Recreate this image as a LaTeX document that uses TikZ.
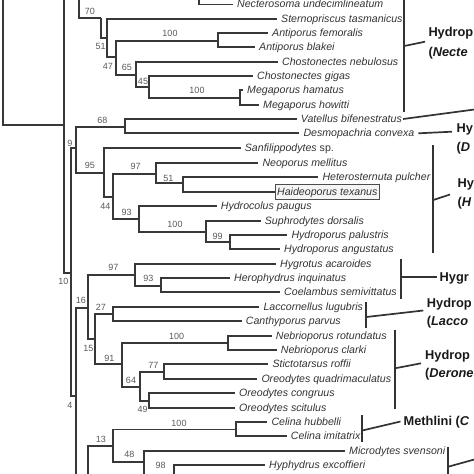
\documentclass[tikz,border=0pt]{standalone}
\usepackage{fontspec}
\setmainfont{Liberation Sans}
\begin{document}
\begin{tikzpicture}[x=1pt,y=-1pt,
  br/.style={draw=black!78,line width=1.7pt},
  brk/.style={draw=black!80,line width=1.7pt},
  leaf/.style={anchor=west,inner xsep=4pt,inner ysep=0pt,text=black!80,
    font=\fontsize{10.6}{12}\selectfont\itshape,text height=1.5ex,text depth=.25ex},
  hbox/.style={anchor=west,inner xsep=2.3pt,inner ysep=0pt,minimum height=15pt,
    draw=black!70,fill=black!4,line width=0.8pt,text=black!80,
    font=\fontsize{10.6}{12}\selectfont\itshape,text height=1.5ex,text depth=.25ex},
  supval/.style={inner sep=0pt,text=black!65,font=\fontsize{9}{10}\selectfont},
  clade/.style={anchor=west,inner sep=0pt,text=black!90,
    font=\fontsize{12.8}{15}\selectfont\bfseries,text height=9.2pt,text depth=0pt}]
\useasboundingbox (0,0) rectangle (474,474);
\clip (0,0) rectangle (474,474);
% ---------------- leaves
\node[leaf] (l1) at (233,4.5) {Necterosoma undecimlineatum};
\node[leaf] (l2) at (277,18.7) {Sternopriscus tasmanicus};
\node[leaf] (l3) at (268,33.3) {Antiporus femoralis};
\node[leaf] (l4) at (255,46.7) {Antiporus blakei};
\node[leaf] (l5) at (278,61.7) {Chostonectes nebulosus};
\node[leaf] (l6) at (253,76) {Chostonectes gigas};
\node[leaf] (l7) at (243,90) {Megaporus hamatus};
\node[leaf] (l8) at (259,105) {Megaporus howitti};
\node[leaf] (l9) at (296.7,119) {Vatellus bifenestratus};
\node[leaf] (l10) at (299.3,133.3) {Desmopachria convexa};
\node[leaf] (l11) at (240.7,147.7) {Sanfilippodytes \textup{sp.}};
\node[leaf] (l12) at (258.3,163.3) {Neoporus mellitus};
\node[leaf] (l13) at (318.3,176.7) {Heterosternuta pulcher};
\node[hbox] (l14) at (274.5,191.7) {Haideoporus texanus};
\node[leaf] (l15) at (216.7,205.7) {Hydrocolus paugus};
\node[leaf] (l16) at (260.7,220.7) {Suphrodytes dorsalis};
\node[leaf] (l17) at (287.3,235) {Hydroporus palustris};
\node[leaf] (l18) at (280,249) {Hydroporus angustatus};
\node[leaf] (l19) at (276,264) {Hygrotus acaroides};
\node[leaf] (l20) at (230,277.7) {Herophydrus inquinatus};
\node[leaf] (l21) at (280,292.3) {Coelambus semivittatus};
\node[leaf] (l22) at (259.3,306.7) {Laccornellus lugubris};
\node[leaf] (l23) at (241.7,321) {Canthyporus parvus};
\node[leaf] (l24) at (271.7,335.7) {Nebrioporus rotundatus};
\node[leaf] (l25) at (276.7,350) {Nebrioporus clarki};
\node[leaf] (l26) at (268.3,364.3) {Stictotarsus roffii};
\node[leaf] (l27) at (257.3,379) {Oreodytes quadrimaculatus};
\node[leaf] (l28) at (235,392.7) {Oreodytes congruus};
\node[leaf] (l29) at (235,407.7) {Oreodytes scitulus};
\node[leaf] (l30) at (267.3,421.7) {Celina hubbelli};
\node[leaf] (l31) at (286.7,436) {Celina imitatrix};
\node[leaf] (l32) at (345,450.7) {Microdytes svensoni};
\node[leaf] (l33) at (265,465) {Hyphydrus excoffieri};
% ---------------- internal nodes
\coordinate (nNe) at (199,-12);
\coordinate (n79) at (79,-12);
\coordinate (n70) at (100.7,18.3);
\coordinate (n51a) at (107,38.3);
\coordinate (n47) at (116,56.7);
\coordinate (nAnt) at (218,40.7);
\coordinate (n65) at (136,75);
\coordinate (n45) at (149,87.3);
\coordinate (nMeg) at (240,98.3);
\coordinate (nR) at (3.3,-12);
\coordinate (nA) at (64.3,125);
\coordinate (nAt) at (64.3,-12);
\coordinate (nB) at (71,273.3);
\coordinate (n9) at (76,148.3);
\coordinate (n68) at (125,127.3);
\coordinate (n95) at (104.3,172.7);
\coordinate (n44) at (113.3,197.3);
\coordinate (n97a) at (155.7,174);
\coordinate (n51b) at (182.7,183.3);
\coordinate (n93a) at (139.3,219.3);
\coordinate (n100b) at (206,231.7);
\coordinate (n99) at (230,241.7);
\coordinate (n4) at (76,395.7);
\coordinate (n4b) at (76,490);
\coordinate (n16) at (88.3,307.7);
\coordinate (n97b) at (135,275);
\coordinate (n93b) at (160.7,285.7);
\coordinate (n15) at (95,339.3);
\coordinate (n27) at (113.3,314.3);
\coordinate (n91) at (122.3,364.3);
\coordinate (n100c) at (227.7,343.3);
\coordinate (n64) at (140,386.7);
\coordinate (n77) at (164,371.7);
\coordinate (n49) at (149.3,400.7);
\coordinate (nL) at (88.3,490);
\coordinate (n13) at (112.7,445.7);
\coordinate (nCel) at (236,429.5);
\coordinate (n48) at (144,462.3);
\coordinate (n98) at (174,474.6);
\coordinate (n98b) at (174,490);
% ---------------- branches
\draw[br] (nNe) |- (l1.west);
\draw[br] (n79) |- (n70);
\draw[br] (n70) |- (n51a);
\draw[br] (n51a) |- (l2.west);
\draw[br] (n51a) |- (n47);
\draw[br] (n47) |- (nAnt);
\draw[br] (n47) |- (n65);
\draw[br] (nAnt) |- (l3.west);
\draw[br] (nAnt) |- (l4.west);
\draw[br] (n65) |- (l5.west);
\draw[br] (n65) |- (n45);
\draw[br] (n45) |- (l6.west);
\draw[br] (n45) |- (nMeg);
\draw[br] (nMeg) |- (l7.west);
\draw[br] (nMeg) |- (l8.west);
\draw[br] (nR) |- (nA);
\draw[br] (nA) -- (nAt);
\draw[br] (nA) |- (nB);
\draw[br] (nB) |- (n9);
\draw[br] (nB) |- (n4);
\draw[br] (n9) |- (n68);
\draw[br] (n9) |- (n95);
\draw[br] (n68) |- (l9.west);
\draw[br] (n68) |- (l10.west);
\draw[br] (n95) |- (l11.west);
\draw[br] (n95) |- (n44);
\draw[br] (n44) |- (n97a);
\draw[br] (n44) |- (n93a);
\draw[br] (n97a) |- (l12.west);
\draw[br] (n97a) |- (n51b);
\draw[br] (n51b) |- (l13.west);
\draw[br] (n51b) |- (l14.west);
\draw[br] (n93a) |- (l15.west);
\draw[br] (n93a) |- (n100b);
\draw[br] (n100b) |- (l16.west);
\draw[br] (n100b) |- (n99);
\draw[br] (n99) |- (l17.west);
\draw[br] (n99) |- (l18.west);
\draw[br] (n4) |- (n16);
\draw[br] (n4) -- (n4b);
\draw[br] (n16) |- (n97b);
\draw[br] (n16) |- (n15);
\draw[br] (n97b) |- (l19.west);
\draw[br] (n97b) |- (n93b);
\draw[br] (n93b) |- (l20.west);
\draw[br] (n93b) |- (l21.west);
\draw[br] (n15) |- (n27);
\draw[br] (n15) |- (n91);
\draw[br] (n27) |- (l22.west);
\draw[br] (n27) |- (l23.west);
\draw[br] (n91) |- (n100c);
\draw[br] (n91) |- (n64);
\draw[br] (n100c) |- (l24.west);
\draw[br] (n100c) |- (l25.west);
\draw[br] (n64) |- (n77);
\draw[br] (n64) |- (n49);
\draw[br] (n77) |- (l26.west);
\draw[br] (n77) |- (l27.west);
\draw[br] (n49) |- (l28.west);
\draw[br] (n49) |- (l29.west);
\draw[br] (nL) |- (n13);
\draw[br] (n13) |- (nCel);
\draw[br] (n13) |- (n48);
\draw[br] (nCel) |- (l30.west);
\draw[br] (nCel) |- (l31.west);
\draw[br] (n48) |- (l32.west);
\draw[br] (n48) |- (n98);
\draw[br] (n98) |- (l33.west);
\draw[br] (n98) -- (n98b);
% ---------------- support values
\node[supval] (s1) at (90,11) {70};
\node[supval] (s2) at (100.7,46.7) {51};
\node[supval] (s3) at (108,66.7) {47};
\node[supval] (s4) at (127,67.7) {65};
\node[supval] (s5) at (143,81) {45};
\node[supval] (s6) at (170,33.3) {100};
\node[supval] (s7) at (197,90.7) {100};
\node[supval] (s8) at (102.3,120) {68};
\node[supval] (s9) at (70,143.3) {9};
\node[supval] (s10) at (90,165) {95};
\node[supval] (s11) at (135.7,166.7) {97};
\node[supval] (s12) at (168.3,178.3) {51};
\node[supval] (s13) at (105.3,206) {44};
\node[supval] (s14) at (126.7,212.3) {93};
\node[supval] (s15) at (175,224.3) {100};
\node[supval] (s16) at (217.7,236) {99};
\node[supval] (s17) at (63.3,281.7) {10};
\node[supval] (s18) at (113.3,267.3) {97};
\node[supval] (s19) at (148.3,278.3) {93};
\node[supval] (s20) at (81,300.7) {16};
\node[supval] (s21) at (101,307.3) {27};
\node[supval] (s22) at (88.3,348.3) {15};
\node[supval] (s23) at (176.7,336.7) {100};
\node[supval] (s24) at (109.3,358.3) {91};
\node[supval] (s25) at (153.3,365) {77};
\node[supval] (s26) at (131,380) {64};
\node[supval] (s27) at (142.7,409.3) {49};
\node[supval] (s28) at (70,405) {4};
\node[supval] (s29) at (179,423.3) {100};
\node[supval] (s30) at (101,439) {13};
\node[supval] (s31) at (129.3,454) {48};
\node[supval] (s32) at (160.7,465) {98};
% ---------------- clade brackets and labels
\coordinate (bNt) at (404.3,-2); \coordinate (bNb) at (404.3,111.7);
\coordinate (bNm) at (404.3,46); \coordinate (bNe) at (425,41.7);
\draw[brk] (bNt) -- (bNb); \draw[brk] (bNm) -- (bNe);
\node[clade] (cN1) at (428.3,32.3) {Hydrop};
\node[clade] (cN2) at (428.3,52) {(\textit{Necte}};
\coordinate (vEnd) at (476,109.3);
\draw[brk] ([xshift=-3pt]l9.east) -- (vEnd);
\coordinate (dEnd) at (452,131.7);
\draw[brk] (l10.east) -- (dEnd);
\node[clade] (cD1) at (456.5,128) {Hy};
\node[clade] (cD2) at (456.5,146.5) {(\textit{D}};
\coordinate (bHt) at (433.3,145); \coordinate (bHb) at (433.3,252.7);
\coordinate (bHm) at (433.3,200); \coordinate (bHe) at (450,194.5);
\draw[brk] (bHt) -- (bHb); \draw[brk] (bHm) -- (bHe);
\node[clade] (cH1) at (457.5,182.5) {Hy};
\node[clade] (cH2) at (457.5,201.7) {(\textit{H}};
\coordinate (bGt) at (400.7,259.3); \coordinate (bGb) at (400.7,299.3);
\coordinate (bGm) at (400.7,277); \coordinate (bGe) at (436.5,277);
\draw[brk] (bGt) -- (bGb); \draw[brk] (bGm) -- (bGe);
\node[clade] (cG1) at (439.5,276.5) {Hygr};
\coordinate (bLt) at (366.3,301.7); \coordinate (bLb) at (366.3,328.3);
\coordinate (bLm) at (366.3,317); \coordinate (bLe) at (423.3,310.5);
\draw[brk] (bLt) -- (bLb); \draw[brk] (bLm) -- (bLe);
\node[clade] (cL1) at (426.7,302.7) {Hydrop};
\node[clade] (cL2) at (426.7,321.3) {(\textit{Lacco}};
\coordinate (bDt) at (395,330); \coordinate (bDb) at (395,409);
\coordinate (bDm) at (395,368.3); \coordinate (bDe) at (421,363.3);
\draw[brk] (bDt) -- (bDb); \draw[brk] (bDm) -- (bDe);
\node[clade] (cE1) at (425,355) {Hydrop};
\node[clade] (cE2) at (425,373.3) {(\textit{Derone}};
\coordinate (bMt) at (362.3,415); \coordinate (bMb) at (362.3,442.3);
\coordinate (bMm) at (362.3,430.5); \coordinate (bMe) at (400.5,421.5);
\draw[brk] (bMt) -- (bMb); \draw[brk] (bMm) -- (bMe);
\node[clade] (cM1) at (403.5,421) {Methlini (\textit{C}};
\coordinate (bBt) at (448.3,447); \coordinate (bBb) at (448.3,490);
\coordinate (bBm) at (448.3,466.7); \coordinate (bBe) at (476,459);
\draw[brk] (bBt) -- (bBb); \draw[brk] (bBm) -- (bBe);
\end{tikzpicture}
\end{document}
